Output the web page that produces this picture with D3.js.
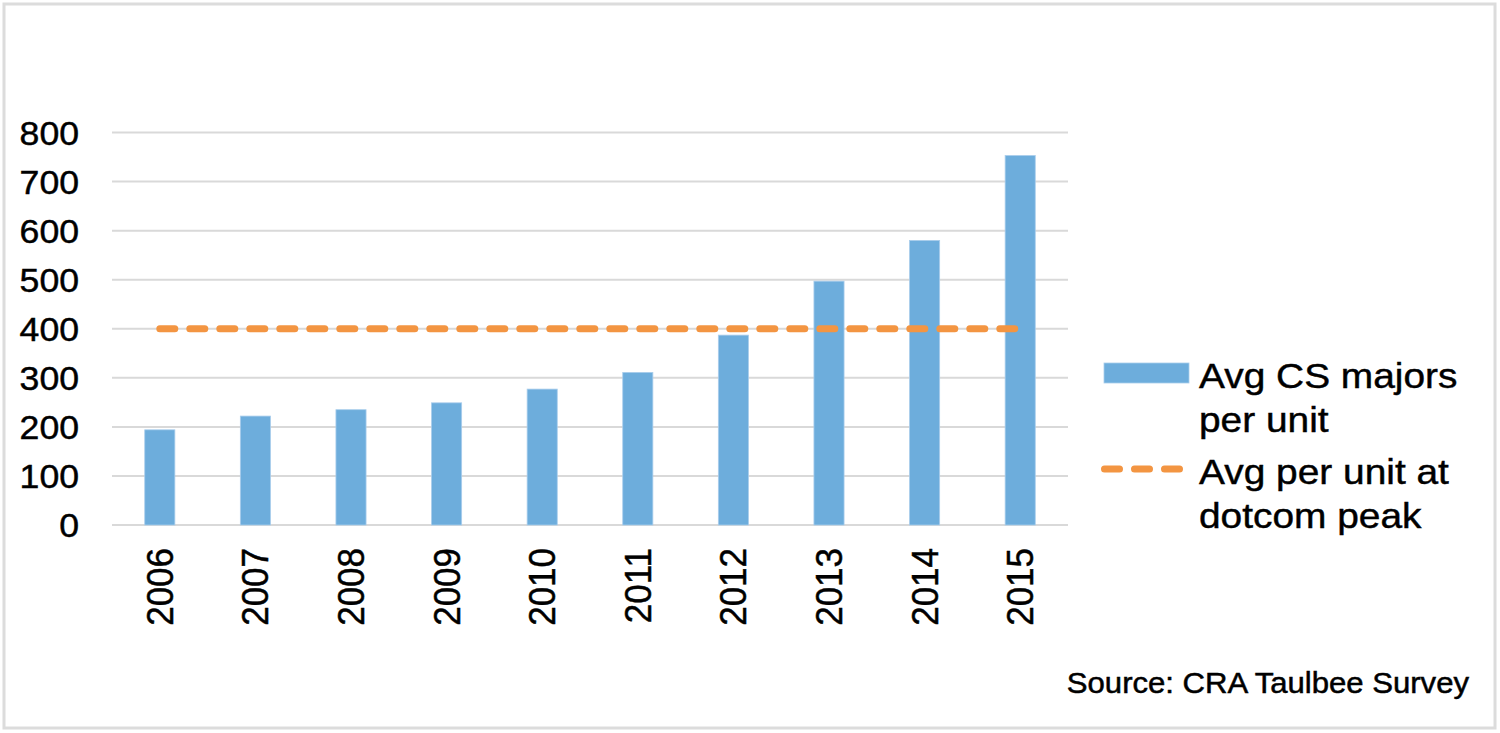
<!DOCTYPE html>
<html><head><meta charset="utf-8">
<script src="https://cdn.jsdelivr.net/npm/d3@7"></script>
<style>body{margin:0;background:#fff}svg text{font-family:"Liberation Sans",Arial,Helvetica,sans-serif;fill:#000;stroke:#000;stroke-width:0.45px}</style>
</head><body>
<svg id="c" width="1500" height="733"></svg>
<script>
const years = ["2006","2007","2008","2009","2010","2011","2012","2013","2014","2015"];
const majorsPerUnit = [194, 222, 235, 249, 277, 311, 387, 497, 580, 753];
const dotcomPeak = [400, 400, 400, 400, 400, 400, 400, 400, 400, 400];
const yTicks = [0, 100, 200, 300, 400, 500, 600, 700, 800];
const legendBars = ["Avg CS majors", "per unit"];
const legendLine = ["Avg per unit at", "dotcom peak"];
const sourceText = "Source: CRA Taulbee Survey";

const SX = 1.08; // horizontal text stretch seen in the reference
const svg = d3.select("#c");
svg.append("rect").attr("x",0).attr("y",0).attr("width",1500).attr("height",733).attr("fill","#fff");
svg.append("rect").attr("x",4).attr("y",4).attr("width",1491).attr("height",724)
  .attr("fill","none").attr("stroke","#dcdcdc").attr("stroke-width",3);

const x = d3.scaleBand().domain(years).range([112,1068]).paddingInner(0.685).paddingOuter(0.3425);
const y = d3.scaleLinear().domain([0,800]).range([525,132.5]);

// gridlines
svg.append("g").selectAll("line").data(yTicks).join("line")
  .attr("x1",112).attr("x2",1068)
  .attr("y1",d=>y(d)).attr("y2",d=>y(d))
  .attr("stroke","#d9d9d9").attr("stroke-width",2);

// y axis
const yAxis = svg.append("g").attr("transform","translate(112,0)")
  .call(d3.axisLeft(y).tickValues(yTicks).tickSize(0).tickPadding(0));
yAxis.select(".domain").remove();
yAxis.selectAll("text")
  .attr("x",-33/SX).attr("dy","0.36em")
  .attr("transform",`scale(${SX},1)`)
  .style("font-size","33px").attr("text-anchor","end");

// bars
svg.append("g").selectAll("rect").data(years).join("rect")
  .attr("x",d=>x(d)).attr("width",x.bandwidth())
  .attr("y",(d,i)=>y(majorsPerUnit[i]))
  .attr("height",(d,i)=>y(0)-y(majorsPerUnit[i]))
  .attr("fill","#6daddc").attr("stroke","#a9cdec").attr("stroke-width",0.8);

// x axis
const xAxis = svg.append("g").attr("transform","translate(0,525)")
  .call(d3.axisBottom(x).tickSize(0).tickPadding(0));
xAxis.select(".domain").remove();
xAxis.selectAll(".tick text")
  .attr("y",null).attr("dy",null)
  .attr("transform",`translate(0,23) scale(${SX},1) rotate(-90)`)
  .attr("text-anchor","end").attr("dominant-baseline","central")
  .style("font-size","35px");

// dashed line
const line = d3.line().x((d,i)=>x(years[i])+x.bandwidth()/2).y(d=>y(d));
svg.append("path").datum(dotcomPeak).attr("d",line)
  .attr("fill","none").attr("stroke","#f39542").attr("stroke-width",7)
  .attr("stroke-linecap","round").attr("stroke-dasharray","15,15");

// legend
const lg = svg.append("g");
lg.append("rect").attr("x",1104).attr("y",363).attr("width",85).attr("height",20)
  .attr("fill","#6daddc").attr("stroke","#a9cdec").attr("stroke-width",0.8);
lg.append("line").attr("x1",1104.5).attr("x2",1180.5).attr("y1",469).attr("y2",469)
  .attr("stroke","#f39542").attr("stroke-width",7)
  .attr("stroke-linecap","round").attr("stroke-dasharray","15,15");
function lines(arr, y0){
  lg.append("g").selectAll("text").data(arr).join("text")
    .attr("transform",(d,i)=>`translate(1199,${y0+i*44}) scale(${SX},1)`)
    .style("font-size","36px").text(d=>d);
}
lines(legendBars, 388);
lines(legendLine, 484);

// source
svg.append("text").attr("transform",`translate(1469,693) scale(${SX},1)`)
  .attr("text-anchor","end").style("font-size","28.8px")
  .style("stroke-width","0.5px")
  .text(sourceText);
</script>
</body></html>
